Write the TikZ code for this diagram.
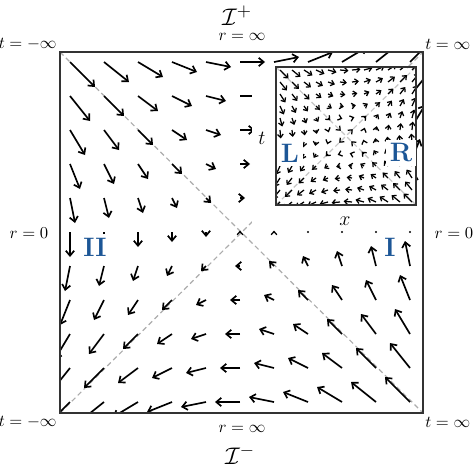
\documentclass[tikz,border=0pt]{standalone}
\usepackage{amsmath}
\usetikzlibrary{arrows.meta}

\definecolor{regblue}{RGB}{28,86,150}

\tikzset{
  vec/.style={line width=1pt, -{Straight Barb[length=3pt,width=5pt]}},
  minivec/.style={line width=0.75pt, -{Straight Barb[length=2pt,width=3.4pt]}},
  horizon/.style={gray!65, dash pattern=on 3pt off 2pt, line width=0.7pt},
  frame/.style={black!80, line width=0.9pt},
  region/.style={text=regblue, font=\fontsize{16}{18}\selectfont\bfseries, fill=white, inner sep=2.5pt},
  lab/.style={inner sep=0pt, font=\fontsize{10.3}{12}\selectfont},
  scri/.style={inner sep=0pt, font=\fontsize{15}{18}\selectfont},
}

\begin{document}
\begin{tikzpicture}[x=0.6pt,y=0.6pt]
  \useasboundingbox (0,0) rectangle (474,-465);
  \coordinate (sw) at (60,-413); \coordinate (se) at (423,-413);
  \coordinate (nw) at (60,-52);  \coordinate (ne) at (423,-52);
  \coordinate (c) at (241.5,-232.5);

  \draw[horizon] (nw) -- (c) -- (ne);
  \draw[horizon] (sw) -- (c) -- (se);

  % boost field on the big diagram
  \begin{scope}
    \clip (sw) rectangle (ne);
    \foreach \i in {0,...,10}{
      \foreach \j in {0,...,10}{
        \pgfmathsetmacro\u{(\i-5)/5}
        \pgfmathsetmacro\v{(5-\j)/5}
        \ifnum\j=5
          \ifnum\i>6
            \fill (70+34*\i,-232) circle (1.1);
          \else\ifnum\i>4
            \draw[minivec] (70+34*\i,-233) -- ++(0,2.5);
          \else
            \draw[vec] (70+34*\i,-232) -- ++(0,25*\u);
          \fi\fi
        \else
          \draw[vec] (70+34*\i,-62-34*\j) -- ++(25*\v,25*\u);
        \fi
      }
    }
  \end{scope}

  \node[region] (regII) at (95,-247) {II};
  \node[region] (regI) at (390,-247) {I};

  % inset: Minkowski
  \fill[white] (252,-226) rectangle (416,-67);
  \begin{scope}
    \clip (276,-205) rectangle (416,-67);
    \draw[horizon, gray!45] (276,-205) -- (416,-67);
    \draw[horizon, gray!45] (276,-67) -- (416,-205);
    \foreach \i in {0,...,11}{
      \foreach \j in {0,...,11}{
        \pgfmathsetmacro\xin{(12*\i-66)/66}
        \pgfmathsetmacro\tin{(66-12*\j)/66}
        \draw[minivec] (280+12*\i,-70-12*\j) -- ++(8.5*\tin,8.5*\xin);
      }
    }
  \end{scope}
  \draw[frame] (276,-205) rectangle (416,-67);
  \node[region] (regL) at (290,-153) {L};
  \node[region] (regR) at (401,-153) {R};
  \node (taxis) at (262,-138) {\large $t$};
  \node (xaxis) at (345,-221) {\large $x$};

  \draw[frame] (sw) rectangle (ne);

  % labels round the square
  \node[scri] (scriplus) at (237,-16) {$\mathcal{I}^+$};
  \node[lab] (rtop) at (242,-37) {$r=\infty$};
  \node[lab, anchor=east] (tnw) at (57,-44) {$t=-\infty$};
  \node[lab, anchor=west] (tne) at (425,-44) {$t=\infty$};
  \node[lab] (rleft) at (29,-233) {$r=0$};
  \node[lab] (rright) at (454,-233) {$r=0$};
  \node[lab, anchor=east] (tsw) at (57,-422) {$t=-\infty$};
  \node[lab, anchor=west] (tse) at (425,-422) {$t=\infty$};
  \node[lab] (rbot) at (242,-429) {$r=\infty$};
  \node[scri] (scriminus) at (240,-455) {$\mathcal{I}^-$};
\end{tikzpicture}
\end{document}
